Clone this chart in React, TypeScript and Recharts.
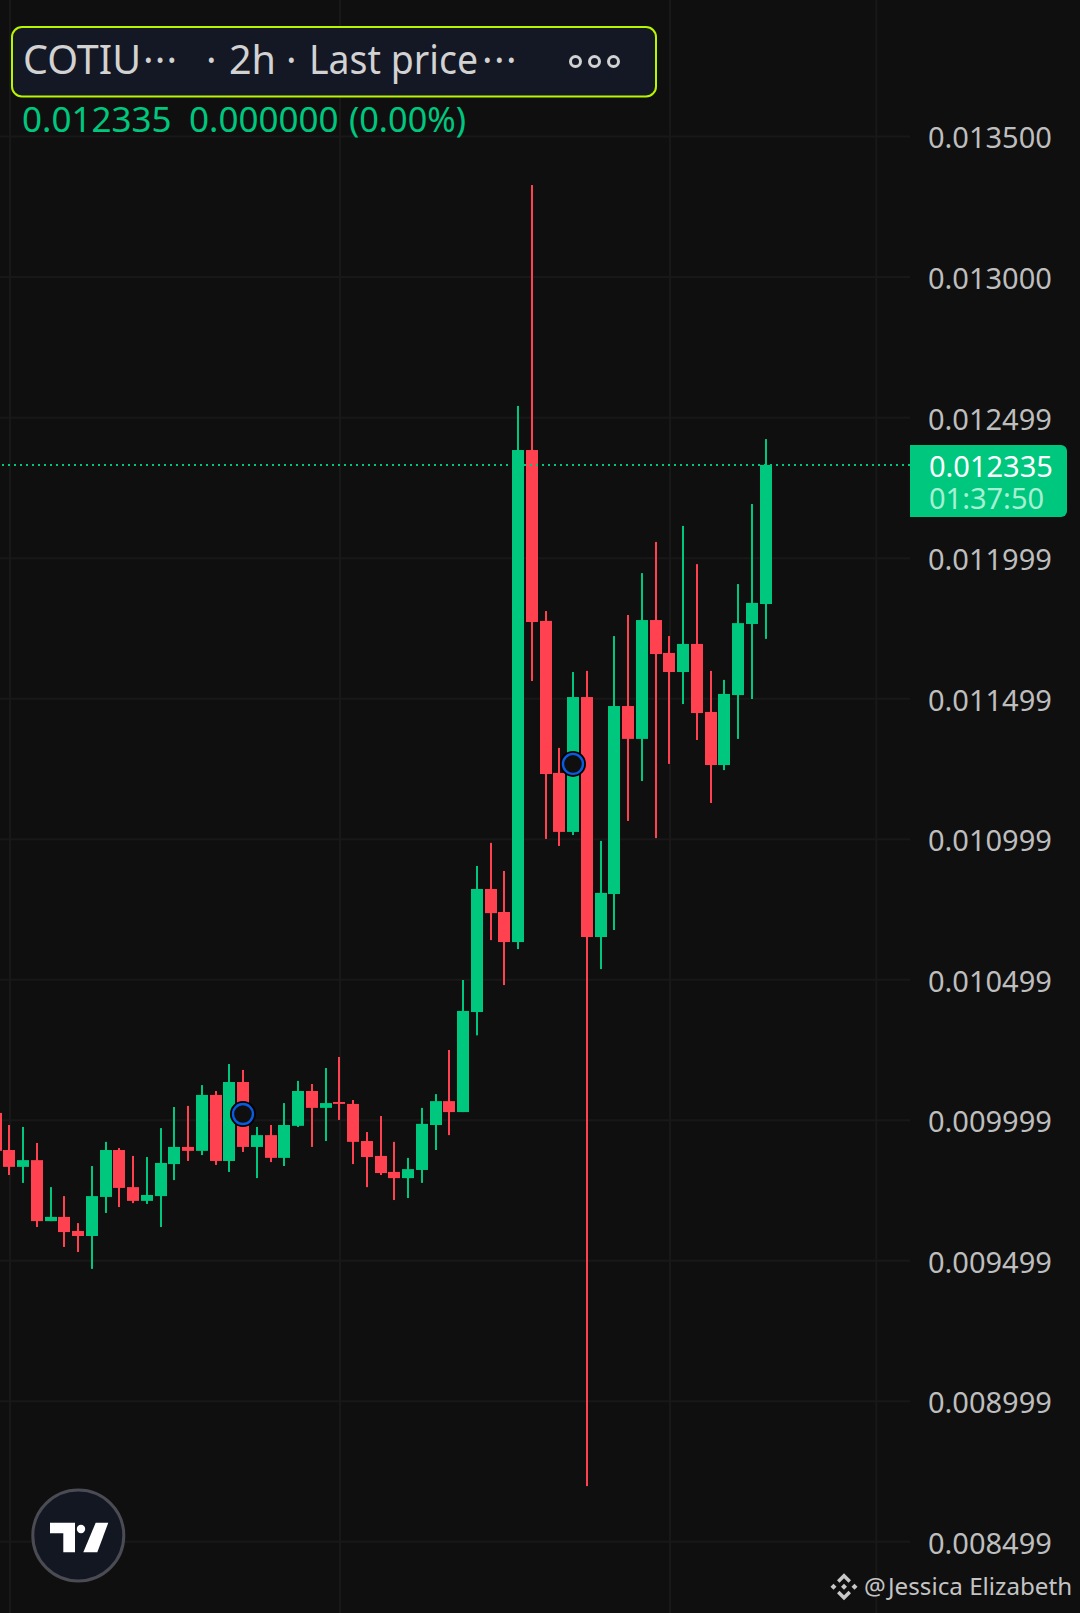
import React from "react";
import {
  ComposedChart,
  Bar,
  XAxis,
  YAxis,
  CartesianGrid,
  ReferenceLine,
  ReferenceDot,
} from "recharts";

// candle values, oldest first
const opens = [
  0.010025, 0.009893, 0.009833, 0.009857, 0.00964, 0.009655, 0.009605, 0.009587, 0.009726, 0.009893,
  0.009761, 0.009712, 0.009729, 0.009843, 0.009904, 0.00989, 0.010089, 0.009854, 0.010135, 0.009904,
  0.009946, 0.009865, 0.009979, 0.010103, 0.010043, 0.010064, 0.010057, 0.009925, 0.009872, 0.009815,
  0.009793, 0.009822, 0.009982, 0.010067, 0.010028, 0.010384, 0.010822, 0.01074, 0.010633, 0.012384,
  0.011776, 0.011235, 0.011025, 0.011505, 0.010651, 0.010804, 0.011473, 0.011356, 0.011779, 0.011662,
  0.011594, 0.011694, 0.011452, 0.011263, 0.011512, 0.011765, 0.011836,
];
const highs = [
  0.010025, 0.009982, 0.009975, 0.009918, 0.009761, 0.009729, 0.009633, 0.009836, 0.009922, 0.0099,
  0.009872, 0.009868, 0.009971, 0.010046, 0.01005, 0.010124, 0.010103, 0.010199, 0.010178, 0.009975,
  0.009982, 0.01006, 0.010139, 0.010128, 0.010185, 0.010224, 0.010071, 0.009957, 0.010014, 0.009922,
  0.009865, 0.010043, 0.010092, 0.010249, 0.010498, 0.010904, 0.010986, 0.010886, 0.012541, 0.013327,
  0.011811, 0.011324, 0.011594, 0.011598, 0.010993, 0.011722, 0.011797, 0.011946, 0.012057, 0.011722,
  0.012114, 0.011978, 0.011598, 0.011566, 0.011907, 0.012192, 0.012423,
];
const lows = [
  0.00989, 0.009804, 0.009776, 0.009619, 0.00964, 0.009548, 0.00953, 0.00947, 0.009669, 0.00969,
  0.009704, 0.009701, 0.009619, 0.009786, 0.009854, 0.009875, 0.00984, 0.009815, 0.009886, 0.009793,
  0.00985, 0.009836, 0.009975, 0.009904, 0.009925, 0.01, 0.009843, 0.009761, 0.009804, 0.009715,
  0.009722, 0.009776, 0.009893, 0.009946, 0.010028, 0.010301, 0.01064, 0.01048, 0.010608, 0.011562,
  0.011, 0.010975, 0.011014, 0.008697, 0.010537, 0.010676, 0.011064, 0.011206, 0.011003, 0.011267,
  0.01148, 0.011352, 0.011128, 0.011245, 0.011356, 0.011498, 0.011712,
];
const closes = [
  0.00989, 0.009833, 0.009857, 0.00964, 0.009655, 0.009601, 0.009587, 0.009729, 0.009893, 0.009758,
  0.009712, 0.009733, 0.009847, 0.009904, 0.00989, 0.010089, 0.009854, 0.010135, 0.009904, 0.009946,
  0.009865, 0.009982, 0.010103, 0.010043, 0.01006, 0.010057, 0.009922, 0.009868, 0.009811, 0.009793,
  0.009825, 0.009986, 0.010067, 0.010028, 0.010388, 0.010822, 0.010736, 0.010633, 0.012384, 0.011772,
  0.011231, 0.011025, 0.011505, 0.010651, 0.010808, 0.011473, 0.011356, 0.011779, 0.011658, 0.011594,
  0.011694, 0.011448, 0.011263, 0.011516, 0.011768, 0.01184, 0.012331,
];

const priceTicks = [
  0.0135, 0.013, 0.012499, 0.011999, 0.011499, 0.010999, 0.010499, 0.009999, 0.009499, 0.008999, 0.008499,
];
const timeGrid = [1, 25, 49, 64];
const lastPrice = 0.012331;
const markers = [
  { index: 18, price: 0.010021 },
  { index: 42, price: 0.011267 },
];

const GREEN = "#00C77E";
const RED = "#FF4150";
const BG = "#0F0F0F";
const GRID = "#181818";
const FONT = '"Noto Sans", sans-serif';
const CANDLE_STEP = 13.75;

const candles = opens.map((open, index) => ({
  index,
  open,
  close: closes[index],
  high: highs[index],
  low: lows[index],
  range: [lows[index], highs[index]],
}));
const allIndexes = candles.map((c) => c.index);

const Candle = (props: any) => {
  const { x, y, width, height, payload } = props;
  const { open, close, high, low } = payload;
  const perUnit = height / (high - low);
  const top = y + (high - Math.max(open, close)) * perUnit;
  const bottom = y + (high - Math.min(open, close)) * perUnit;
  const center = Math.round(x + width / 2);
  const color = close >= open ? GREEN : RED;
  return (
    <g>
      <rect x={center - 1} y={y} width={2} height={height} fill={color} />
      <rect x={center - 6} y={top} width={12} height={Math.max(bottom - top, 1)} fill={color} />
    </g>
  );
};

const Marker = (props: any) => (
  <g>
    <circle cx={props.cx} cy={props.cy} r={13} fill="#000" />
    <circle cx={props.cx} cy={props.cy} r={10} fill={BG} stroke="#0A5BE0" strokeWidth={2.4} />
  </g>
);

// header, price tag, logo and watermark sit on top of the chart
const Overlay = () => (
  <svg
    width={1080}
    height={1613}
    style={{ position: "absolute", left: 0, top: 0, pointerEvents: "none" }}
    fontFamily={FONT}
  >
    <rect x={12} y={27} width={644} height={69.5} rx={10} fill="#141824" stroke="#B8F500" strokeWidth={2} />
    <g fill="#D2D2D2" fontSize={39.5}>
      <text x={23} y={74}>COTIU</text>
      <text x={143} y={74} letterSpacing={1.2}>···</text>
      <text x={206} y={74}>·</text>
      <text x={229} y={74}>2h</text>
      <text x={286} y={74}>·</text>
      <text x={309} y={74} textLength={169} lengthAdjust="spacingAndGlyphs">Last price</text>
      <text x={482} y={74} letterSpacing={1.4}>···</text>
    </g>
    {[575.5, 594.5, 613.5].map((cx) => (
      <circle key={cx} cx={cx} cy={61.5} r={5} fill="none" stroke="#D2D2D2" strokeWidth={3} />
    ))}
    <g fill={GREEN} fontSize={35}>
      <text x={22} y={131.5}>0.012335</text>
      <text x={189} y={131.5}>0.000000</text>
      <text x={349} y={131.5} textLength={117} lengthAdjust="spacingAndGlyphs">(0.00%)</text>
    </g>

    <path d="M910 445H1061a6 6 0 0 1 6 6V511a6 6 0 0 1 -6 6H910Z" fill={GREEN} />
    <text x={929} y={477} fontSize={29} fill="#FFFFFF">0.012335</text>
    <text x={929} y={509} fontSize={29} fill="#A6EFD3">01:37:50</text>

    <circle cx={78.3} cy={1535.5} r={45.5} fill="#131722" stroke="#4A4B53" strokeWidth={3} />
    <path d="M50 1522.7H75V1552.3H63.3V1533.3H50Z" fill="#FFF" />
    <circle cx={81} cy={1529} r={4.2} fill="#FFF" />
    <path d="M95.7 1522.7H108.3L97.3 1552.3H83.3Z" fill="#FFF" />

    <g transform="translate(844 1586.7)" fill="#C8C8C8">
      <path d="M0 -13.5L7 -6.5L4.5 -4L0 -8.5L-4.5 -4L-7 -6.5Z" />
      <path d="M0 13.5L7 6.5L4.5 4L0 8.5L-4.5 4L-7 6.5Z" />
      <path d="M-13.5 0L-10.5 -3L-7.5 0L-10.5 3Z" />
      <path d="M13.5 0L10.5 -3L7.5 0L10.5 3Z" />
      <path d="M0 -3L3 0L0 3L-3 0Z" />
    </g>
    <text x={864} y={1595} fontSize={24.2} fill="#C4C4C4">@</text>
    <text x={888} y={1595} fontSize={24.2} fill="#C4C4C4">Jessica Elizabeth</text>
  </svg>
);

const App = () => {
  return (
    <div style={{ position: "absolute", left: 0, top: 0, width: 1080, height: 1613, background: BG }}>
      <ComposedChart
        width={1080}
        height={1613}
        data={candles}
        margin={{ top: 0, right: 0, bottom: 0, left: 0 }}
      >
        <CartesianGrid
          stroke={GRID}
          strokeWidth={2}
          horizontalValues={priceTicks}
          syncWithTicks={false}
          verticalCoordinatesGenerator={() => timeGrid.map((t) => (t - 0.2727) * CANDLE_STEP)}
        />
        <XAxis
          dataKey="index"
          type="number"
          domain={[0.33, 66.51]}
          allowDataOverflow
          ticks={allIndexes}
          height={0}
          tick={false}
          axisLine={false}
          tickLine={false}
        />
        <YAxis
          orientation="right"
          width={170}
          domain={[0.0082454, 0.0139855]}
          ticks={priceTicks}
          interval={0}
          allowDataOverflow
          axisLine={false}
          tickLine={false}
          tickSize={0}
          tickMargin={18}
          tick={{ fill: "#BEBEBE", fontSize: 29, fontFamily: FONT, dy: 1.5 }}
          tickFormatter={(value: number) => value.toFixed(6)}
        />
        <Bar dataKey="range" barSize={12} shape={Candle} isAnimationActive={false} />
        <ReferenceLine y={lastPrice} stroke={GREEN} strokeWidth={2} strokeDasharray="2 4" />
        {markers.map((m) => (
          <ReferenceDot key={m.index} x={m.index} y={m.price} shape={Marker} />
        ))}
      </ComposedChart>
      <Overlay />
    </div>
  );
};

export default App;
